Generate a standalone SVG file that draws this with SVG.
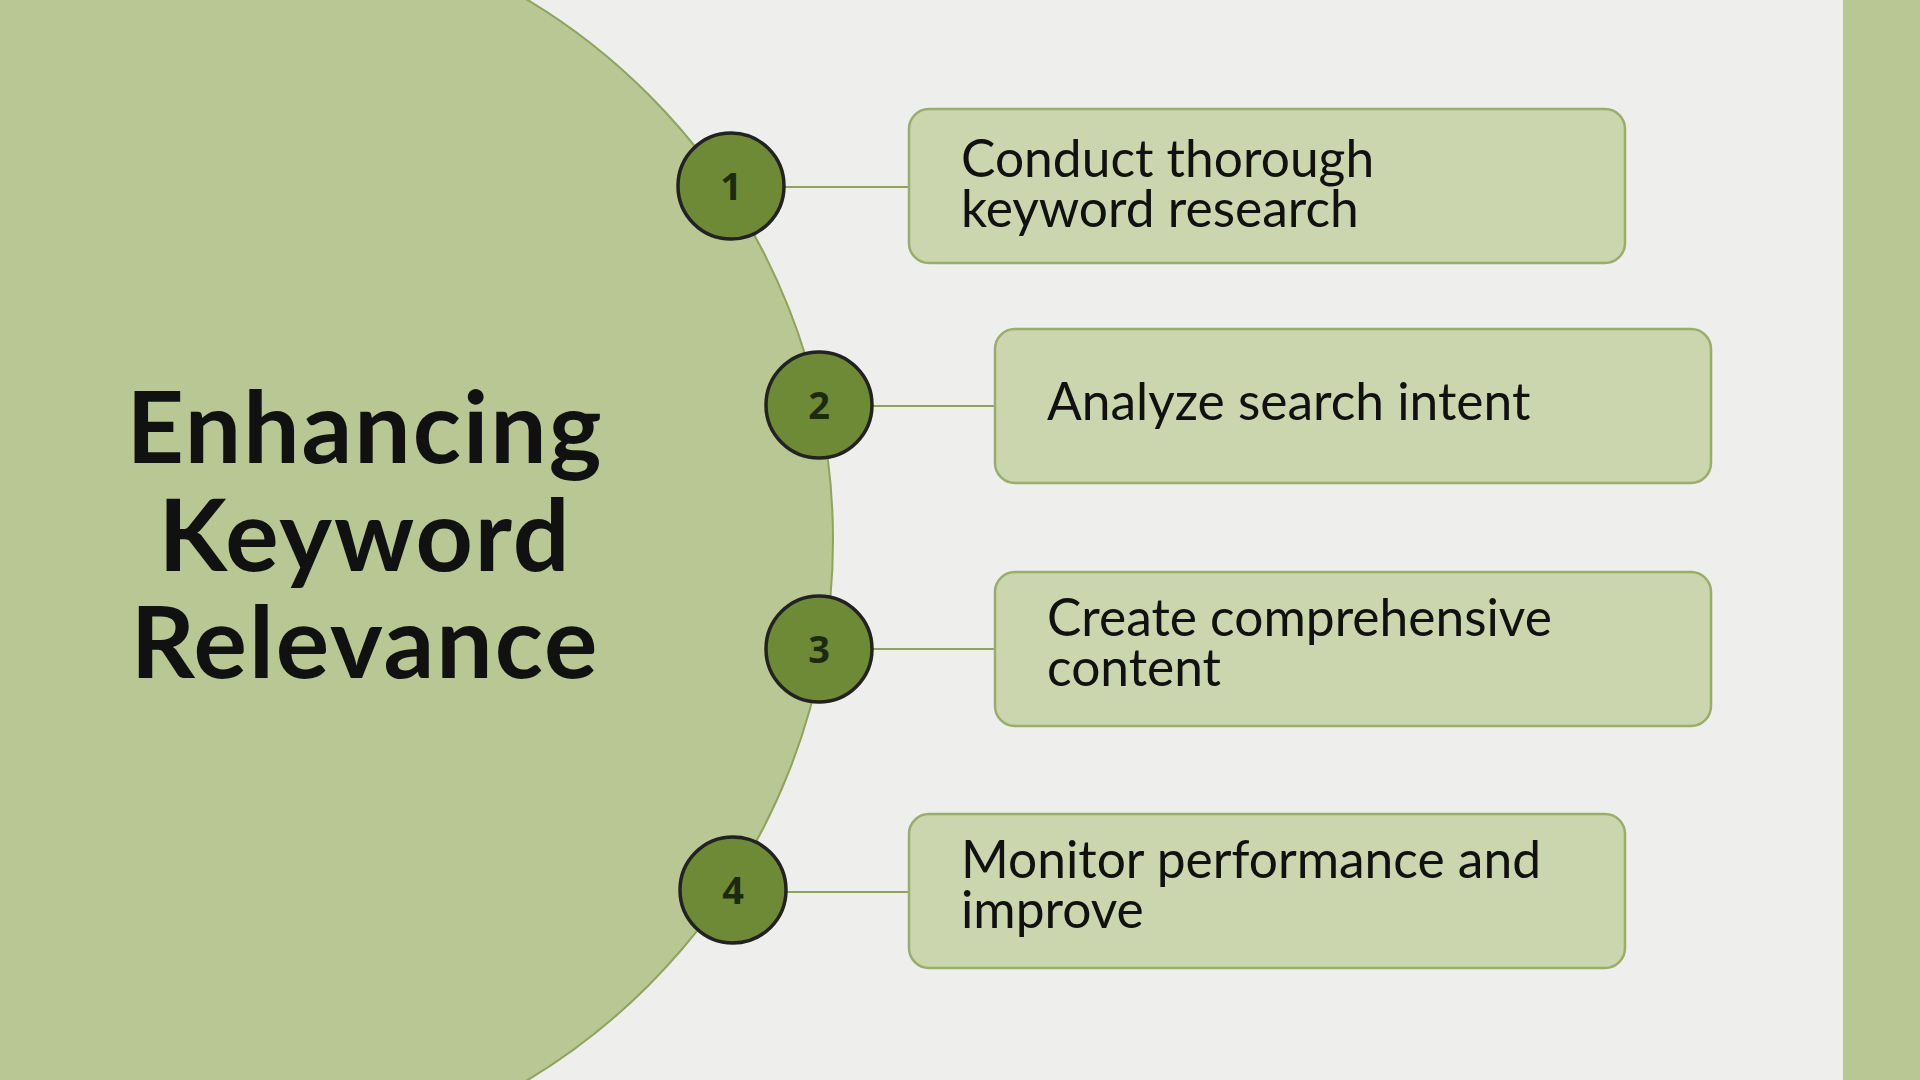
<svg xmlns="http://www.w3.org/2000/svg" width="1920" height="1080" viewBox="0 0 1920 1080">
<style>
.box{fill:#cbd5ae;stroke:#9aad6a;stroke-width:2.5}
.num{fill:#6f8a36;stroke:#222;stroke-width:3.5}
.nt{font-family:"Open Sans",sans-serif;font-weight:700;font-size:38px;fill:#1e2a10;text-anchor:middle}
.t{font-family:"Lato","Noto Sans",sans-serif;font-size:51.5px;fill:#111}
.title{font-family:"Lato","Liberation Sans",sans-serif;font-weight:700;font-size:100px;letter-spacing:2px;fill:#111;text-anchor:middle}
.c{stroke:#8fa35f;stroke-width:2;fill:none}
</style>
<rect width="1920" height="1080" fill="#eeeeec"/>
<rect x="1843" y="0" width="77" height="1080" fill="#b8c793"/>
<circle cx="203" cy="540" r="630" fill="#b8c793" stroke="#8fa35f" stroke-width="2"/>
<text class="title"><tspan x="365" y="463">Enhancing</tspan><tspan x="365" y="571">Keyword</tspan><tspan x="365" y="678">Relevance</tspan></text>
<g id="connectors">
<line class="c" x1="784" y1="187" x2="909" y2="187"/>
<line class="c" x1="872" y1="406" x2="995" y2="406"/>
<line class="c" x1="872" y1="649" x2="995" y2="649"/>
<line class="c" x1="786" y1="892" x2="909" y2="892"/>
</g>
<g id="n1"><rect class="box" x="909" y="109" width="716" height="154" rx="20"/><circle class="num" cx="731" cy="186" r="53"/><text class="nt" x="731" y="200">1</text><text class="t"><tspan x="961" y="177">Conduct thorough</tspan><tspan x="961" y="227">keyword research</tspan></text></g>
<g id="n2"><rect class="box" x="995" y="329" width="716" height="154" rx="20"/><circle class="num" cx="819" cy="405" r="53"/><text class="nt" x="819" y="419">2</text><text class="t" x="1047" y="420">Analyze search intent</text></g>
<g id="n3"><rect class="box" x="995" y="572" width="716" height="154" rx="20"/><circle class="num" cx="819" cy="649" r="53"/><text class="nt" x="819" y="663">3</text><text class="t"><tspan x="1047" y="636">Create comprehensive</tspan><tspan x="1047" y="686">content</tspan></text></g>
<g id="n4"><rect class="box" x="909" y="814" width="716" height="154" rx="20"/><circle class="num" cx="733" cy="890" r="53"/><text class="nt" x="733" y="904">4</text><text class="t"><tspan x="961" y="878">Monitor performance and</tspan><tspan x="961" y="928">improve</tspan></text></g>
</svg>
